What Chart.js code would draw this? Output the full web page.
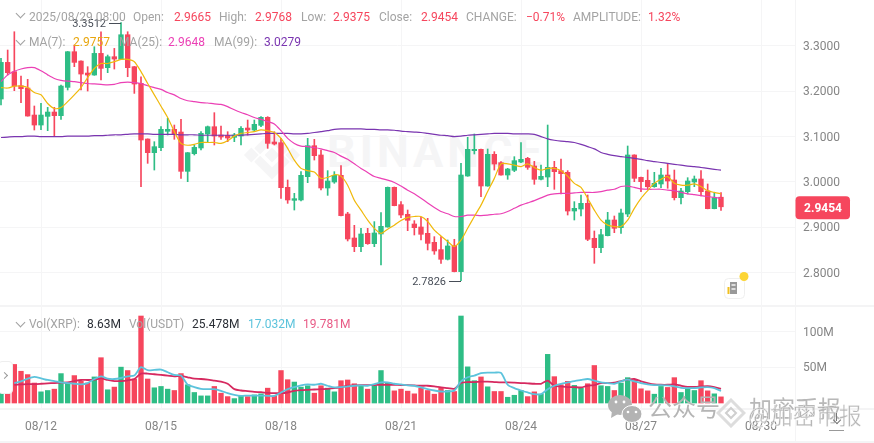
<!DOCTYPE html>
<html><head><meta charset="utf-8">
<style>
html,body{margin:0;padding:0;background:#fff;width:874px;height:443px;overflow:hidden}
body{position:relative;font-family:Roboto,sans-serif;font-size:12px}
canvas{position:absolute;left:0;z-index:2}
.t{position:absolute;white-space:nowrap;line-height:14px;color:#a3a3a3;z-index:4}
.r{color:#F6465D}
.sep{position:absolute;background:#f4f4f5;z-index:1}
.wm{position:absolute;z-index:1;color:#f5f5f6;font:700 45px/45px Roboto,sans-serif;letter-spacing:4px}
.cw{position:absolute;z-index:4;width:6px;height:6px;border-right:1.2px solid #a0a0a0;border-bottom:1.2px solid #a0a0a0;transform:rotate(45deg)}
.ov{position:absolute;z-index:5;white-space:nowrap;font-family:"Noto Sans CJK SC",sans-serif}
</style></head><body>
<div class="sep" style="left:0;top:305px;width:874px;height:2px"></div>
<div class="sep" style="left:0;top:408px;width:874px;height:2px"></div>
<div class="sep" style="left:0;top:441px;width:874px;height:2px"></div>
<div class="sep" style="left:795px;top:0;width:1px;height:441px"></div>
<div class="wm" style="left:327px;top:129px">BINANCE</div>
<svg style="position:absolute;left:235px;top:129px;z-index:1" width="74" height="52" viewBox="0 0 100 70">
<g fill="#f5f5f6"><path d="M50 2 74 26 66 34 50 18 34 34 26 26Z"/><path d="M50 68 26 44 34 36 50 52 66 36 74 44Z"/><path d="M12 35 22 25 32 35 22 45Z"/><path d="M68 35 78 25 88 35 78 45Z"/><path d="M50 25 60 35 50 45 40 35Z"/></g></svg>

<div class="cw" style="left:17px;top:10px"></div>
<span class="t" style="left:29px;top:10px">2025/08/29 08:00</span>
<span class="t" style="left:133px;top:10px">Open:</span><span class="t r" style="left:174px;top:10px">2.9665</span>
<span class="t" style="left:219px;top:10px">High:</span><span class="t r" style="left:255px;top:10px">2.9768</span>
<span class="t" style="left:301px;top:10px">Low:</span><span class="t r" style="left:333px;top:10px">2.9375</span>
<span class="t" style="left:379px;top:10px">Close:</span><span class="t r" style="left:421px;top:10px">2.9454</span>
<span class="t" style="left:466px;top:10px">CHANGE:</span><span class="t r" style="left:526px;top:10px">−0.71%</span>
<span class="t" style="left:573px;top:10px">AMPLITUDE:</span><span class="t r" style="left:648px;top:10px">1.32%</span>

<div class="cw" style="left:17px;top:37px"></div>
<span class="t" style="left:29px;top:35px">MA(7):</span><span class="t" style="left:73px;top:35px;color:#E8A60E">2.9757</span>
<span class="t" style="left:119px;top:35px">MA(25):</span><span class="t" style="left:168px;top:35px;color:#EB40B5">2.9648</span>
<span class="t" style="left:214px;top:35px">MA(99):</span><span class="t" style="left:264px;top:35px;color:#7A35B0">3.0279</span>

<div class="cw" style="left:17px;top:319px"></div>
<span class="t" style="left:29px;top:317px">Vol(XRP):</span><span class="t" style="left:87px;top:317px;color:#2b2f36">8.63M</span>
<span class="t" style="left:129px;top:317px">Vol(USDT)</span><span class="t" style="left:192px;top:317px;color:#2b2f36">25.478M</span>
<span class="t" style="left:248px;top:317px;color:#5CC3DC">17.032M</span><span class="t" style="left:303px;top:317px;color:#E85A85">19.781M</span>

<div style="position:absolute;left:-2px;top:361px;width:13px;height:31px;background:#fff;border:1px solid #eeeeee;border-radius:4px;z-index:5"></div>
<div style="position:absolute;left:2px;top:373px;width:4px;height:4px;border-right:1px solid #999;border-top:1px solid #999;transform:rotate(45deg);z-index:6"></div>

<svg style="position:absolute;left:722px;top:272px;z-index:5" width="28" height="28" viewBox="0 0 28 28">
<rect x="2.5" y="6.5" width="20" height="20" rx="4" fill="#fff" stroke="#efefef"/>
<rect x="8" y="10" width="7" height="12" fill="#999"/><rect x="9.5" y="12" width="4" height="2" fill="#ddd"/><rect x="9.5" y="16" width="4" height="2" fill="#ddd"/>
<rect x="5.5" y="15" width="2" height="7" fill="#F0C020"/><circle cx="22" cy="4.5" r="4.5" fill="#FCD535"/></svg>

<svg style="position:absolute;left:607px;top:393px;z-index:5" width="36" height="32" viewBox="0 0 36 32">
<ellipse cx="13" cy="12" rx="12" ry="10" fill="#b3b3b3"/><path d="M5 18 4 25 11 21Z" fill="#b3b3b3"/>
<ellipse cx="25" cy="21" rx="10" ry="8.5" fill="#b3b3b3" stroke="#fff"/><circle cx="21" cy="19" r="1.3" fill="#fff"/><circle cx="29" cy="19" r="1.3" fill="#fff"/>
<circle cx="9" cy="9" r="1.4" fill="#fff"/><circle cx="17" cy="9" r="1.4" fill="#fff"/></svg>
<span class="ov" style="left:648px;top:392px;font-size:24px;line-height:28px;color:#b5b5b5">公众号</span>
<svg style="position:absolute;left:716px;top:398px;z-index:5" width="30" height="30" viewBox="0 0 30 30">
<path d="M15 2 28 15 15 28 2 15Z" fill="none" stroke="#ddd" stroke-width="3"/><path d="M15 10 20 15 15 20 10 15Z" fill="none" stroke="#cfcfcf" stroke-width="2"/></svg>
<span class="ov" style="left:749px;top:393px;font-size:23px;line-height:28px;color:#b8b8b8">加密币报</span>
<span class="ov" style="left:748px;top:400px;font-size:23px;line-height:28px;color:rgba(170,170,170,.85);-webkit-text-stroke:.4px #fff">@加密币报</span>
<div style="position:absolute;left:834px;top:417px;width:5px;height:5px;border-right:1px solid #777;border-bottom:1px solid #777;transform:rotate(45deg);z-index:6"></div>
<div style="position:absolute;left:836px;top:413px;width:1px;height:8px;background:#777;z-index:6"></div>
<div style="position:absolute;left:829px;top:430px;width:15px;height:1px;background:#999;z-index:6"></div>

<canvas id="p" width="874" height="306" style="top:0"></canvas>
<canvas id="v" width="874" height="137" style="top:306px"></canvas>

<script src="https://cdn.jsdelivr.net/npm/chart.js@4/dist/chart.umd.min.js"></script>
<script>
const opens=[3.1828,3.2635,3.2430,3.2121,3.2070,3.1475,3.1255,3.1446,3.1541,3.1461,
3.2085,3.2870,3.2664,3.2400,3.2356,3.2833,3.2518,3.2760,3.2701,3.3244,
3.2540,3.2173,3.0947,3.0646,3.0756,3.1116,3.1160,3.1101,3.0235,3.0624,
3.0749,3.1057,3.1218,3.1035,3.1028,3.0984,3.1013,3.1189,3.1145,3.1248,
3.1424,3.0881,3.0866,2.9883,2.9596,2.9604,3.0117,3.0800,3.0595,2.9868,
3.0000,3.0147,2.9295,2.8767,2.8576,2.8870,2.8642,2.8855,2.9009,2.9883,
2.9501,2.9288,2.9075,2.9009,2.8870,2.8671,2.8510,2.8297,2.8598,2.8026,
3.0132,3.0690,3.0719,2.9912,3.0609,3.0426,3.0154,3.0257,3.0440,3.0521,
3.0352,3.0059,3.0110,3.0323,3.0250,3.0213,2.9361,2.9405,2.9530,2.8760,
2.8554,2.8818,2.9163,2.8994,2.9295,3.0595,3.0103,3.0037,2.9897,2.9956,
3.0154,3.0044,2.9655,2.9787,3.0000,3.0066,2.9802,2.9413,2.9665];
const closes=[3.2635,3.2408,3.2114,3.2055,3.1453,3.1255,3.1475,3.1541,3.1461,3.2114,
3.2870,3.2635,3.2378,3.2356,3.2833,3.2503,3.2760,3.2708,3.3244,3.2518,
3.2158,3.0925,3.0646,3.0778,3.1160,3.1160,3.1050,3.0235,3.0646,3.0763,
3.1072,3.1218,3.1013,3.0991,3.0969,3.1035,3.1182,3.1145,3.1270,3.1424,
3.0851,3.0837,2.9875,2.9604,2.9633,3.0147,3.0800,3.0580,2.9868,3.0022,
3.0147,2.9259,2.8745,2.8576,2.8855,2.8642,2.8877,2.9024,2.9883,2.9479,
2.9273,2.9156,2.8994,2.8848,2.8649,2.8481,2.8297,2.8591,2.8026,3.0154,
3.0719,3.0719,2.9912,3.0609,3.0396,3.0154,3.0286,3.0470,3.0499,3.0323,
3.0059,3.0125,3.0323,3.0228,3.0184,2.9361,2.9420,2.9530,2.8738,2.8554,
2.8840,2.9163,2.8980,2.9317,3.0595,3.0081,3.0007,2.9897,2.9971,3.0154,
3.0022,2.9655,2.9802,3.0022,3.0066,2.9787,2.9413,2.9655,2.9454];
const highs=[3.2723,3.2907,3.3310,3.2334,3.2261,3.1674,3.1732,3.1644,3.1644,3.2136,
3.2875,3.3017,3.2668,3.2540,3.2980,3.3310,3.2797,3.2943,3.3512,3.3310,
3.2545,3.2319,3.0950,3.0888,3.1218,3.1402,3.1255,3.1380,3.0650,3.0815,
3.1108,3.1233,3.1527,3.1233,3.1108,3.1072,3.1218,3.1365,3.1365,3.1439,
3.1439,3.1108,3.0962,3.0044,2.9750,3.0228,3.0962,3.0940,3.0705,3.0250,
3.0228,3.0360,2.9332,2.9046,2.8980,2.8980,2.9127,2.9325,2.9890,2.9890,
2.9567,2.9383,2.9149,2.9222,2.9200,2.8796,2.8796,2.8723,2.8738,3.0411,
3.0984,3.1057,3.0725,3.0727,3.0668,3.0448,3.0301,3.0558,3.0866,3.0543,
3.0455,3.0374,3.1255,3.0455,3.0506,3.0250,2.9567,2.9714,2.9714,2.8921,
2.8958,2.9332,2.9251,2.9405,3.0793,3.0600,3.0108,3.0264,3.0213,3.0301,
3.0411,3.0264,2.9861,3.0095,3.0132,3.0250,2.9956,2.9765,2.9768];
const lows=[3.1696,3.2356,3.2011,3.1747,3.1450,3.1145,3.1150,3.1130,3.0998,3.1380,
3.2026,3.2540,3.2026,3.2004,3.2350,3.2246,3.2408,3.2488,3.2695,3.2319,
3.1952,2.9897,3.0411,3.0264,3.0690,3.1035,3.0940,3.0081,3.0007,3.0595,
3.0705,3.0866,3.0815,3.0940,3.0888,3.0888,3.0815,3.1035,3.1108,3.1218,
3.0741,3.0815,2.9640,2.9530,2.9383,2.9582,2.9985,3.0484,2.9824,2.9706,
2.9971,2.9252,2.8701,2.8466,2.8466,2.8627,2.8576,2.8172,2.9005,2.9475,
2.9215,2.8928,2.8833,2.8723,2.8503,2.8407,2.8209,2.8282,2.8020,2.7826,
3.0125,3.0617,2.9677,2.9905,3.0264,3.0148,3.0059,3.0228,3.0426,3.0279,
2.9949,3.0044,2.9897,2.9839,2.9736,2.9273,2.9163,2.9251,2.8708,2.8209,
2.8444,2.8812,2.8884,2.8870,2.9237,3.0007,2.9787,2.9839,2.9883,2.9875,
2.9861,2.9604,2.9516,2.9736,2.9897,2.9692,2.9408,2.9408,2.9375];
const ma7=[3.208,3.207,3.211,3.211,3.208,3.197,3.192,3.173,3.162,3.164,
3.177,3.192,3.208,3.230,3.250,3.261,3.261,3.265,3.270,3.270,
3.265,3.243,3.217,3.192,3.167,3.142,3.111,3.085,3.081,3.083,
3.087,3.087,3.087,3.085,3.091,3.101,3.107,3.109,3.111,3.115,
3.113,3.109,3.096,3.074,3.048,3.030,3.025,3.022,3.008,3.010,
3.016,3.013,2.993,2.960,2.938,2.916,2.898,2.887,2.896,2.905,
2.915,2.922,2.924,2.924,2.913,2.894,2.881,2.869,2.858,2.872,
2.898,2.924,2.949,2.979,3.008,3.040,3.040,3.037,3.034,3.040,
3.032,3.026,3.030,3.030,3.025,3.013,2.997,2.988,2.964,2.938,
2.916,2.905,2.902,2.902,2.916,2.942,2.964,2.981,2.997,3.006,
3.012,2.997,2.993,2.993,2.996,2.990,2.981,2.977,2.974];
const ma25=[3.221,3.236,3.244,3.249,3.252,3.252,3.245,3.236,3.228,3.224,
3.222,3.221,3.219,3.217,3.216,3.215,3.214,3.215,3.219,3.220,
3.219,3.217,3.212,3.208,3.204,3.197,3.192,3.184,3.179,3.177,
3.175,3.174,3.172,3.171,3.166,3.159,3.153,3.148,3.142,3.138,
3.133,3.128,3.113,3.096,3.085,3.079,3.078,3.076,3.073,3.069,
3.065,3.057,3.050,3.040,3.030,3.021,3.012,3.008,3.004,2.999,
2.991,2.982,2.974,2.964,2.954,2.944,2.935,2.930,2.924,2.924,
2.927,2.927,2.926,2.927,2.929,2.930,2.935,2.942,2.949,2.954,
2.959,2.965,2.971,2.974,2.975,2.975,2.976,2.977,2.977,2.977,
2.979,2.982,2.984,2.990,2.991,2.988,2.985,2.984,2.984,2.984,
2.982,2.981,2.977,2.974,2.972,2.970,2.968,2.966,2.964];
const ma99=[3.098,3.099,3.100,3.100,3.101,3.101,3.100,3.100,3.100,3.100,
3.101,3.101,3.101,3.101,3.102,3.102,3.103,3.104,3.104,3.105,
3.106,3.106,3.106,3.105,3.105,3.105,3.105,3.104,3.104,3.104,
3.103,3.103,3.103,3.103,3.103,3.103,3.103,3.104,3.105,3.106,
3.107,3.107,3.107,3.107,3.106,3.106,3.107,3.109,3.111,3.113,
3.116,3.117,3.117,3.117,3.117,3.116,3.116,3.115,3.115,3.114,
3.112,3.111,3.110,3.109,3.107,3.105,3.103,3.102,3.100,3.101,
3.103,3.104,3.105,3.106,3.107,3.107,3.107,3.106,3.106,3.106,
3.105,3.100,3.095,3.092,3.090,3.089,3.087,3.083,3.078,3.073,
3.065,3.061,3.058,3.056,3.054,3.052,3.050,3.047,3.045,3.043,
3.041,3.039,3.037,3.035,3.034,3.032,3.030,3.028,3.026];
const volumes=[15.2,13.8,54.3,44.7,40.0,28.1,15.7,17.6,19.5,41.4,
28.1,38.6,30.5,28.1,36.7,63.8,18.6,22.4,50.5,45.7,
33.8,122.5,33.8,21.4,23.3,19.5,17.6,41.4,25.7,14.8,
10.0,10.0,23.3,13.8,9.0,6.2,10.5,9.0,11.4,12.9,
20.9,10.0,45.7,32.8,29.5,22.4,24.3,13.8,24.3,20.9,
15.7,31.4,32.4,27.1,24.3,19.5,24.3,45.7,28.1,17.1,
19.5,16.7,12.9,20.9,17.6,12.4,20.9,17.6,16.2,122.5,
50.9,31.4,36.7,22.8,16.2,16.2,8.1,10.9,17.6,9.0,
15.7,12.4,68.5,37.1,25.7,30.5,24.8,20.9,27.1,52.8,
24.3,23.3,17.6,28.1,35.7,32.8,20.0,17.1,12.4,23.3,
21.9,35.7,14.8,20.9,17.6,31.4,17.1,12.9,8.63];
const volMaA=[null,null,28.1,30.5,34.3,36.7,34.7,32.4,30.9,29.0,
28.1,27.1,26.2,28.1,33.8,37.6,34.3,33.8,35.2,37.6,
38.6,50.5,46.2,46.6,47.1,43.3,39.5,38.6,25.7,22.4,
20.0,19.5,19.5,17.1,13.8,11.4,10.0,10.5,10.5,10.5,
10.0,10.0,14.8,19.5,22.4,24.8,26.2,25.7,27.1,24.3,
21.9,22.4,23.3,24.3,24.8,24.3,26.7,29.0,29.0,27.1,
26.2,24.8,24.3,21.9,19.5,17.6,16.2,16.2,17.6,30.5,
36.2,38.6,41.9,42.8,42.8,42.4,25.7,20.9,17.6,14.8,
12.4,12.4,19.5,24.3,27.1,29.0,30.9,32.4,33.8,31.4,
29.0,28.1,27.1,30.5,32.8,30.5,28.1,26.2,25.2,25.2,
24.8,23.3,21.4,20.9,20.9,21.9,22.4,20.9,17.032];
const volMaB=[null,null,25.7,26.2,26.7,26.7,27.1,27.6,28.1,28.6,
29.0,30.9,32.4,32.4,32.8,34.7,32.4,30.9,30.9,31.9,
33.8,41.4,41.4,40.5,39.5,38.6,37.6,38.1,36.2,34.3,
33.8,32.8,31.4,30.0,27.1,19.5,17.6,16.7,15.7,15.2,
14.3,13.8,13.8,14.8,17.1,18.1,18.6,19.0,19.5,20.0,
20.9,22.4,24.3,24.8,25.2,25.2,25.2,25.7,25.7,25.7,
25.2,25.2,24.8,24.3,24.3,23.3,21.9,20.9,20.0,28.1,
29.5,29.5,30.0,30.0,29.5,29.0,29.0,28.6,28.1,27.6,
27.1,27.1,31.4,24.3,23.3,22.4,22.4,21.9,24.3,25.2,
28.1,28.1,28.6,30.9,32.8,33.8,30.5,28.1,26.2,25.7,
25.7,26.2,24.3,22.8,22.8,23.3,23.8,22.4,19.781];
const tickIndexes=[6,24,42,60,78,96,114];
const tickLabels=['08/12','08/15','08/18','08/21','08/24','08/27','08/30'];
const priceTicks=[2.8,2.9,3.0,3.1,3.2,3.3];
const volumeTicks=[50,100];
const highLabel='3.3512', highIndex=18, lowLabel='2.7826', lowIndex=69;
const lastPrice=2.9454;

const UP='#2EBD85',DOWN='#F6465D',GRID='#f5f5f6',TICK='#858585';
const idx=opens.map((_,i)=>i);
const colors=idx.map(i=>closes[i]>=opens[i]?UP:DOWN);
const font={family:'Roboto',size:12};
const xMin=-0.15,xMax=119.1;
const xScale=(withLabels)=>({type:'linear',min:xMin,max:xMax,offset:false,
  grid:{color:GRID,drawTicks:false,offset:false},border:{display:false},
  afterBuildTicks:a=>{a.ticks=tickIndexes.map(v=>({value:v}));},
  afterFit:a=>{a.height=withLabels?34:0;a.paddingLeft=0;a.paddingRight=0;},
  ticks:{display:withLabels,color:TICK,font,padding:11,maxRotation:0,autoSkip:false,
    callback:v=>tickLabels[tickIndexes.indexOf(v)]}});
const yScale=(min,max,vals,fmt)=>({position:'right',min,max,
  grid:{color:GRID,drawTicks:false},border:{display:false},
  afterBuildTicks:a=>{a.ticks=vals.map(v=>({value:v}));},
  afterFit:a=>{a.width=79;a.paddingTop=0;a.paddingBottom=0;},
  ticks:{color:TICK,font,padding:8,labelOffset:1,callback:fmt}});
const line=(arr,c,w)=>({type:'line',data:idx.map(i=>({x:i,y:arr[i]})),borderColor:c,borderWidth:w,
  pointRadius:0,tension:.25,order:0,spanGaps:false});
const base={responsive:false,animation:false,parsing:{xAxisKey:'x',yAxisKey:'y'},
  layout:{padding:0},plugins:{legend:{display:false},tooltip:{enabled:false}}};

const annotate={id:'annotate',afterDatasetsDraw(ch){
  const c=ch.ctx,x=ch.scales.x,y=ch.scales.y;
  c.save();c.font='11px Roboto';c.fillStyle='#474d57';c.strokeStyle='#474d57';c.lineWidth=1;
  c.textBaseline='middle';c.textAlign='right';
  const mark=(i,v,t)=>{const px=x.getPixelForValue(i),py=Math.round(y.getPixelForValue(v))+.5;
    c.beginPath();c.moveTo(px,py);c.lineTo(px-12,py);c.stroke();c.fillText(t,px-15,py+1);};
  mark(highIndex,+highLabel,highLabel);mark(lowIndex,+lowLabel,lowLabel);
  const py=y.getPixelForValue(lastPrice)+1;
  c.fillStyle=DOWN;c.beginPath();c.roundRect(795.5,py-11.5,54.5,23,4);c.fill();
  c.fillStyle='#fff';c.font='700 12px Roboto';c.textAlign='center';c.fillText(lastPrice.toFixed(4),823,py+1);
  c.restore();}};

new Chart(document.getElementById('p'),{type:'bar',plugins:[annotate],data:{datasets:[
  line(ma7,'#F0B90B',1.2),line(ma25,'#EB40B5',1.2),line(ma99,'#7A35B0',1.2),
  {data:idx.map(i=>({x:i,y:[opens[i],closes[i]]})),backgroundColor:colors,barThickness:4.7,grouped:false,minBarLength:1,order:1},
  {data:idx.map(i=>({x:i,y:[lows[i],highs[i]]})),backgroundColor:colors,barThickness:1,grouped:false,order:2}
]},options:{...base,scales:{x:xScale(false),y:yScale(3-124/454,3+182/454,priceTicks,v=>v.toFixed(4))}}});

new Chart(document.getElementById('v'),{type:'bar',data:{datasets:[
  line(volMaA,'#5CC3DC',1.8),line(volMaB,'#D6295F',1.8),
  {data:idx.map(i=>({x:i,y:volumes[i]})),backgroundColor:colors,barThickness:4.7,grouped:false,order:1}
]},options:{...base,scales:{x:xScale(true),y:yScale(-8.45,136.6,volumeTicks,v=>v+'M')}}});
</script>
</body></html>
